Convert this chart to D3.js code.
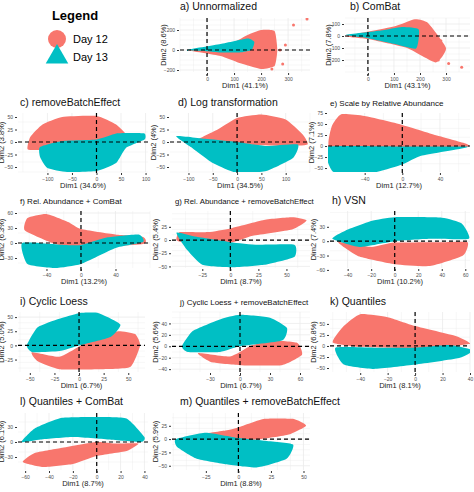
<!DOCTYPE html><html><head><meta charset="utf-8"><script src="https://d3js.org/d3.v7.min.js"></script>
<style>body{margin:0;background:#fff}text{font-family:"Liberation Sans",Arial,sans-serif}</style></head><body><svg id="c" width="474" height="492"></svg>
<script>
const titles=["a) Unnormalized","b) ComBat","c) removeBatchEffect","d) Log transformation","e) Scale by Relative Abundance","f) Rel. Abundance + ComBat","g) Rel. Abundance + removeBatchEffect","h) VSN","i) Cyclic Loess","j) Cyclic Loess + removeBatchEffect","k) Quantiles","l) Quantiles + ComBat","m) Quantiles + removeBatchEffect"];
const xPct=["41.1%","43.1%","34.6%","34.5%","12.7%","13.2%","8.7%","10.2%","6.7%","6.7%","8.1%","8.7%","8.8%"];
const yPct=["8.6%","7.8%","3.8%","4%","7.1%","6.3%","5.4%","7.4%","5.0%","5.6%","6.8%","6.1%","5.9%"];
const xTicks=[[0,100,200,300],[0,100,200,300],[-100,-50,0,50,100],[-100,-50,0,50,100],[-40,0,40],[-40,0,40],[-25,0,25,50],[-40,-20,0,20,40,60],[-50,-25,0,25,50],[-30,0,30,60],[-40,-20,0,20,40],[-60,-40,-20,0,20,40],[-25,0,25,50]];
const yTicks=[[-200,0,200],[-200,-100,0,100],[-50,-25,0,25,50],[-50,-25,0,25,50],[-50,-25,0,25,50,75],[-30,0,30,60],[-50,-25,0,25],[-60,-30,0,30],[-25,0,25,50],[-40,-20,0,20,40],[-50,-25,0,25,50],[-30,0,30],[-50,-25,0,25]];
const xDom=[[-100,381],[-88,392],[-160,105],[-138,150],[-79,72],[-73,80],[-52,71],[-55,64],[-62,67],[-68,70],[-62,40],[-66,43],[-51,55]];
const yDom=[[-220,320],[-300,150],[-60,58],[-60,58],[-59,75],[-50,64],[-53,55],[-56,63],[-47,59],[-45,60],[-59,77],[-56,58],[-58,49]];
const redBlobs=[
[[-75,0],[50,-60],[120,-130],[200,-190],[250,-160],[260,0],[250,190],[200,200],[150,150],[100,80],[0,20]],
[[-85,0],[100,80],[180,140],[230,110],[300,-100],[260,-220],[150,-100],[0,-25]],
[[-140,-15],[-135,10],[-110,35],[-70,50],[0,52],[40,35],[65,10],[60,0],[0,0],[-50,-5],[-100,-15]],
[[-90,0],[-40,25],[0,48],[50,55],[100,45],[135,15],[145,-5],[100,-8],[0,-5],[-50,0]],
[[-78,0],[-75,45],[-65,72],[-40,68],[0,48],[40,22],[68,5],[68,-2],[0,-3],[-50,-3]],
[[-65,25],[-62,50],[-40,58],[-15,42],[0,28],[40,17],[72,12],[72,-2],[0,-10],[-30,-2]],
[[-48,0],[-45,15],[-20,15],[0,22],[30,38],[55,43],[68,37],[55,20],[20,8],[0,-5],[-40,-5]],
[[-48,-2],[-20,-12],[0,-3],[40,-2],[62,-2],[58,-30],[30,-52],[0,-48],[-30,-32]],
[[-48,-12],[-20,-20],[0,-2],[20,18],[40,25],[57,20],[62,0],[52,-38],[20,-42],[-20,-42],[-42,-28]],
[[-42,-12],[-10,-18],[10,0],[30,10],[57,6],[62,-15],[42,-33],[0,-33],[-28,-28]],
[[-60,8],[-52,45],[-40,72],[-20,65],[0,45],[30,22],[40,5],[20,-2],[0,-6],[-40,-2]],
[[-62,-40],[-52,-22],[-30,-12],[0,0],[15,-3],[35,-3],[25,-18],[0,-28],[-20,-44],[-45,-50]],
[[-32,8],[-10,16],[0,22],[20,38],[42,38],[52,25],[38,8],[10,-2],[-10,3],[-28,3]]];
const tealBlobs=[
[[-75,0],[50,60],[150,115],[175,80],[165,0],[120,-25],[50,-25],[0,-12]],
[[-85,8],[50,45],[130,75],[195,55],[185,-105],[100,-65],[0,-18]],
[[-115,-10],[-70,2],[0,5],[40,17],[70,18],[98,17],[98,5],[60,-12],[40,-42],[0,-58],[-60,-60],[-100,-52],[-115,-30]],
[[-125,12],[-60,6],[0,0],[60,-8],[125,-5],[115,-32],[60,-58],[0,-62],[-50,-42],[-95,-10]],
[[-78,-1],[0,-1],[68,-1],[62,-6],[20,-22],[0,-42],[-30,-60],[-72,-60],[-80,-30]],
[[-68,0],[-20,-4],[0,-4],[30,11],[67,17],[72,2],[40,-10],[0,-42],[-30,-50],[-62,-42]],
[[-48,14],[-30,6],[0,-4],[25,-9],[57,-9],[57,-32],[30,-47],[0,-52],[-25,-47],[-38,-20]],
[[-53,5],[-42,22],[-20,42],[0,50],[40,49],[57,37],[63,5],[30,5],[0,0],[-30,-12]],
[[-53,0],[-42,32],[-20,47],[0,57],[20,57],[42,37],[32,15],[0,0],[-20,-10],[-47,-12]],
[[-58,0],[-47,27],[-20,47],[0,55],[30,50],[47,32],[42,10],[0,0],[-20,-10],[-52,-10]],
[[-58,-4],[-30,-4],[0,-4],[25,2],[42,-10],[32,-27],[0,-42],[-30,-52],[-52,-42]],
[[-63,0],[-52,27],[-30,48],[0,50],[25,47],[40,10],[37,0],[10,5],[-20,10],[-47,5]],
[[-48,0],[-25,12],[0,2],[20,-3],[42,-10],[37,-37],[15,-53],[-10,-47],[-32,-37],[-47,-15]]];
const redOutliers=[[[370,310],[320,250],[280,-140],[240,-190],[210,-130],[290,50],[230,150],[270,0],[220,-60]],[[360,-260],[310,-230],[270,-200],[280,-40],[240,60]],[],[],[],[],[],[],[],[],[],[],[]];
const legendLabels=["Day 12","Day 13"];
const RED="#F8766D",TEAL="#00BFC4";
const L=[[180,18,310,72],[345,18,470,72],[18,113,148,172],[170,113,310,172],[328,113,470,172],[18,211,150,268],[172,211,310,268],[330,211,470,268],[18,312,145,372],[172,312,310,372],[330,312,470,372],[18,413,148,470],[172,413,310,470]];
const bigT=[1,1,1,1,0,0,0,1,1,0,1,1,1];
const tSize=[10.5,10.5,10.5,10.5,8,8,7.8,10.5,10.5,8,10.5,10.5,10.5];
const tx=[180,350,20,178,330,20,175,332,20,180,330,20,180];
const ty=[10,10,106,106,106,204,204,204,305,305,305,405,405];
const svg=d3.select("#c");
titles.forEach((t,i)=>{
 const [l,tp,r,b]=L[i];
 const x=d3.scaleLinear().domain(xDom[i]).range([l,r]);
 const y=d3.scaleLinear().domain(yDom[i]).range([b,tp]);
 const g=svg.append("g");
 const cp="cp"+i;
 g.append("clipPath").attr("id",cp).append("rect").attr("x",l).attr("y",tp).attr("width",r-l).attr("height",b-tp);
 x.ticks(8).forEach(v=>g.append("line").attr("x1",x(v)).attr("x2",x(v)).attr("y1",tp).attr("y2",b).attr("stroke","#ebebeb").attr("stroke-width",xTicks[i].includes(v)?0.8:0.4));
 y.ticks(8).forEach(v=>g.append("line").attr("y1",y(v)).attr("y2",y(v)).attr("x1",l).attr("x2",r).attr("stroke","#ebebeb").attr("stroke-width",yTicks[i].includes(v)?0.8:0.4));
 const line=d3.line().x(d=>x(d[0])).y(d=>y(d[1])).curve(d3.curveCardinalClosed.tension(0.5));
 const gc=g.append("g").attr("clip-path",`url(#${cp})`);
 gc.append("path").attr("d",line(redBlobs[i])).attr("fill",RED);
 gc.append("path").attr("d",line(tealBlobs[i])).attr("fill",TEAL);
 gc.selectAll("circle").data(redOutliers[i]).join("circle").attr("cx",d=>x(d[0])).attr("cy",d=>y(d[1])).attr("r",1.5).attr("fill",RED);
 g.append("line").attr("x1",x(0)).attr("x2",x(0)).attr("y1",tp).attr("y2",b+4).attr("stroke","#000").attr("stroke-width",1.2).attr("stroke-dasharray","4,3");
 g.append("line").attr("x1",l).attr("x2",r).attr("y1",y(0)).attr("y2",y(0)).attr("stroke","#000").attr("stroke-width",1.2).attr("stroke-dasharray","4,3");
 const xa=g.append("g").attr("transform",`translate(0,${b+1})`).call(d3.axisBottom(x).tickValues(xTicks[i]).tickSize(2).tickPadding(2));
 const ya=g.append("g").attr("transform",`translate(${l-1},0)`).call(d3.axisLeft(y).tickValues(yTicks[i]).tickSize(2).tickPadding(2));
 [xa,ya].forEach(a=>{a.select(".domain").remove();a.selectAll("text").attr("font-size",5).attr("fill","#4d4d4d");a.selectAll("line").attr("stroke","#333");});
 g.append("text").attr("x",(l+r)/2).attr("y",b+16).attr("text-anchor","middle").attr("font-size",7.5).attr("fill","#222").text("Dim1 ("+xPct[i]+")");
 g.append("text").attr("transform",`translate(${l-14},${(tp+b)/2}) rotate(-90)`).attr("text-anchor","middle").attr("font-size",7.5).attr("fill","#222").text("Dim2 ("+yPct[i]+")");
 g.append("text").attr("x",tx[i]).attr("y",ty[i]).attr("font-size",tSize[i]).attr("fill","#111").text(t);
});
const lg=svg.append("g");
lg.append("text").attr("x",75).attr("y",20).attr("text-anchor","middle").attr("font-size",13).attr("font-weight","bold").text("Legend");
lg.append("circle").attr("cx",57).attr("cy",39).attr("r",9).attr("fill",RED);
lg.append("path").attr("d",d3.symbol(d3.symbolTriangle,220)()).attr("transform","translate(57,57)").attr("fill",TEAL);
legendLabels.forEach((s,k)=>lg.append("text").attr("x",73).attr("y",43+k*18).attr("font-size",11).text(s));
</script></body></html>
